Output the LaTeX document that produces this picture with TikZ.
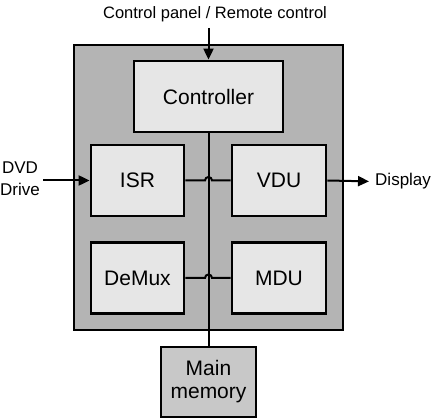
\documentclass[tikz,border=0pt]{standalone}
\usepackage{fontspec}
\setmainfont{Liberation Sans}
\usetikzlibrary{arrows.meta,calc}
\definecolor{outerfill}{HTML}{B4B4B4}
\definecolor{innerfill}{HTML}{E6E6E6}
\definecolor{memfill}{HTML}{C8C8C8}
\begin{document}
\begin{tikzpicture}[x=1pt,y=1pt,
  unitbox/.style={draw=black,line width=2.8pt,fill=innerfill,inner sep=0pt,
    font=\fontsize{21}{25}\selectfont},
  memsbox/.style={unitbox,fill=memfill,align=center},
  outerbox/.style={draw=black,line width=1.5pt,fill=outerfill,inner sep=0pt},
  lbl/.style={inner sep=0pt,font=\fontsize{17}{22}\selectfont},
  toplbl/.style={inner sep=0pt,font=\fontsize{16.5}{20}\selectfont},
  bus/.style={line width=2pt},
  arr/.style={line width=2pt,-{Triangle[length=11pt,width=10pt]}}
]
\useasboundingbox (0,0) rectangle (431,418);
\node[outerbox,minimum width=269pt,minimum height=285pt] (outer) at (208.5,230.5) {};
\node[unitbox,minimum width=149pt,minimum height=71pt] (ctrl) at (208.5,321.5) {Controller};
\node[unitbox,minimum width=93pt,minimum height=71pt] (isr) at (137.5,237.5) {ISR};
\node[unitbox,minimum width=94pt,minimum height=71pt] (vdu) at (279,237.5) {VDU};
\node[unitbox,minimum width=93pt,minimum height=71pt] (demux) at (137.5,140) {DeMux};
\node[unitbox,minimum width=94pt,minimum height=71pt] (mdu) at (279,140) {MDU};
\node[memsbox,minimum width=95pt,minimum height=70pt] (mem) at (208.5,36) {Main\\[-2pt]memory};
\node[toplbl] (cp) at (215,404) {Control panel / Remote control};
\node[lbl,align=center,anchor=east] (dvd) at (40,239) {DVD\\Drive};
\node[lbl,anchor=west] (disp) at (375,236.5) {Display};
\coordinate (cpin) at (208.5,390);
\coordinate (dvdin) at (43,237.5);
% bus
\draw[bus] (ctrl.south) -- (mem.north);
\coordinate (x1) at (isr.east -| ctrl.south);
\coordinate (x2) at (demux.east -| ctrl.south);
\draw[bus] (isr.east) -- ($(x1)+(-3.5,0)$) arc[start angle=180,end angle=0,radius=3.5pt] -- (vdu.west);
\draw[bus] (demux.east) -- ($(x2)+(-3.5,0)$) arc[start angle=180,end angle=0,radius=3.5pt] -- (mdu.west);
% external arrows
\draw[arr] (cpin) -- (ctrl.north);
\draw[arr] (dvdin) -- (isr.west);
\draw[arr,shorten >=6pt] (vdu.east) -- (disp.west);
\end{tikzpicture}
\end{document}
